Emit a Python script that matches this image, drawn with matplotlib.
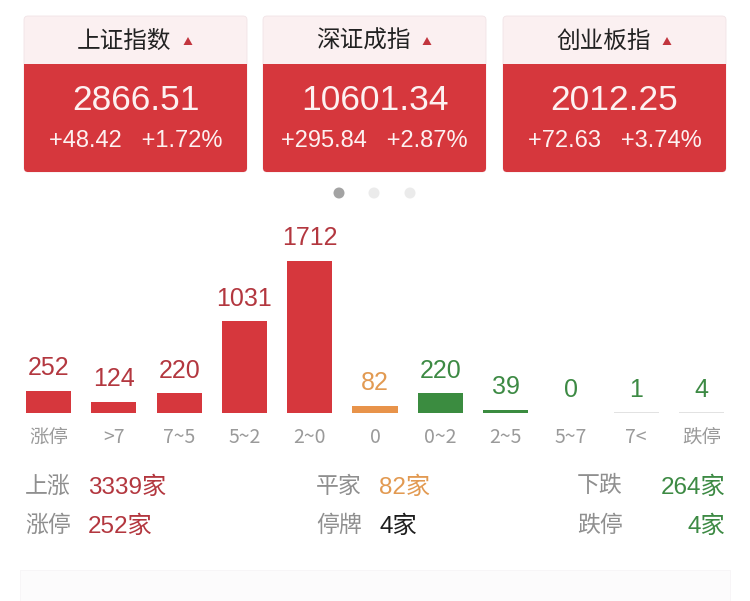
import matplotlib
matplotlib.use("Agg")
import matplotlib.pyplot as plt
from matplotlib.patches import FancyBboxPatch, Rectangle, Polygon, Circle

CJK = ["Noto Sans CJK SC", "DejaVu Sans"]
NUM = ["Liberation Sans", "Noto Sans CJK SC", "DejaVu Sans"]

# index cards
index_names = ["上证指数", "深证成指", "创业板指"]
index_values = ["2866.51", "10601.34", "2012.25"]
index_changes = ["+48.42", "+295.84", "+72.63"]
index_pcts = ["+1.72%", "+2.87%", "+3.74%"]

# distribution of price changes
categories = ["涨停", ">7", "7~5", "5~2", "2~0", "0", "0~2", "2~5", "5~7", "7<", "跌停"]
counts = [252, 124, 220, 1031, 1712, 82, 220, 39, 0, 1, 4]
groups = ["up"] * 5 + ["flat"] + ["down"] * 5

# summary rows
summary_labels = [["上涨", "平家", "下跌"], ["涨停", "停牌", "跌停"]]
summary_values = [["3339家", "82家", "264家"], ["252家", "4家", "4家"]]
summary_kinds = [["up", "flat", "down"], ["up", "black", "down"]]

RED = "#d6373d"
bar_colors = {"up": RED, "flat": "#e8934a", "down": "#3b8c40"}
label_colors = {"up": "#b3373f", "flat": "#e29a52", "down": "#3d8a44", "black": "#1e1e1e"}

W, H = 750, 601
fig = plt.figure(figsize=(W / 100, H / 100), dpi=100)
fig.patch.set_facecolor("white")

# background axes in pixel coordinates (origin top-left)
bg = fig.add_axes([0, 0, 1, 1])
bg.set_xlim(0, W)
bg.set_ylim(H, 0)
bg.axis("off")

card_left = [24, 263, 503]
card_w = 223
for left, name, val, chg, pct in zip(card_left, index_names, index_values,
                                     index_changes, index_pcts):
    cx = left + card_w / 2
    bg.add_patch(FancyBboxPatch((left, 16), card_w, 156,
                                boxstyle="round,pad=0,rounding_size=4",
                                fc="#fbf0f1", ec="#f1e4e6", lw=0.6, zorder=1))
    bg.add_patch(FancyBboxPatch((left, 64), card_w, 108,
                                boxstyle="round,pad=0,rounding_size=4",
                                fc=RED, ec="none", zorder=2))
    bg.add_patch(Rectangle((left, 64), card_w, 10, fc=RED, ec="none", zorder=2))
    bg.text(cx - 11, 41, name, ha="center", va="center", fontsize=17,
            family=CJK, color="#222222", zorder=3)
    tx = cx + 52.5
    bg.add_patch(Polygon([[tx - 4.5, 45], [tx + 4.5, 45], [tx, 37]],
                         closed=True, fc="#c2353e", ec="none", zorder=3))
    bg.text(cx, 100, val, ha="center", va="center", fontsize=25.5,
            family=NUM, color="#fdf1f1", zorder=3)
    bg.text(cx, 141, chg + "   " + pct, ha="center", va="center", fontsize=17,
            family=NUM, color="#fdf1f1", zorder=3)

# page dots
for x, c in zip([339, 374, 410], ["#a3a3a3", "#ebebeb", "#ebebeb"]):
    bg.add_patch(Circle((x, 193), 5.5, fc=c, ec="none"))

# faint panel at the bottom edge
bg.add_patch(Rectangle((20, 570), 710, 40, fc="#fcfbfc", ec="#f6f4f6", lw=0.6))

# bar chart axes: baseline at y=413 px from top, 0.0888 px per unit
ymax = 2000
ax_h = ymax * 0.0888
ax = fig.add_axes([16 / W, (H - 413) / H, 718 / W, ax_h / H])
ax.set_xlim(-0.5, len(categories) - 0.5)
ax.set_ylim(0, ymax)
ax.patch.set_alpha(0)
for s in ax.spines.values():
    s.set_visible(False)
ax.set_yticks([])

xs = range(len(categories))
for i, (n, g) in enumerate(zip(counts, groups)):
    ax.bar(i, n, width=0.69, color=bar_colors[g], lw=0)
    if 0 < n < 10:
        ax.plot([i - 0.345, i + 0.345], [0, 0], color="#dddddd", lw=1.2,
                solid_capstyle="butt")
    ax.annotate(str(n), (i, n), xytext=(0, 16.5), textcoords="offset points",
                ha="center", va="center", fontsize=18, family=NUM,
                color=label_colors[g])

ax.set_xticks(list(xs))
ax.set_xticklabels(categories, family=CJK, fontsize=14, color="#9a9a9a")
ax.tick_params(axis="x", length=0, pad=10)

# summary rows
row_y = [486, 525]
lab_x = [25, 316, 577]
for r in range(2):
    for c in range(3):
        bg.text(lab_x[c], row_y[r], summary_labels[r][c], ha="left", va="center",
                fontsize=16.5, family=CJK, color="#8f8f8f")
        kind = summary_kinds[r][c]
        if c == 2:
            bg.text(725, row_y[r] + 2, summary_values[r][c], ha="right", va="center",
                    fontsize=17.5, family=NUM, color=label_colors[kind])
        else:
            bg.text(lab_x[c] + 63, row_y[r] + 2, summary_values[r][c], ha="left",
                    va="center", fontsize=17.5, family=NUM, color=label_colors[kind])

fig.savefig("out.png", dpi=100)
